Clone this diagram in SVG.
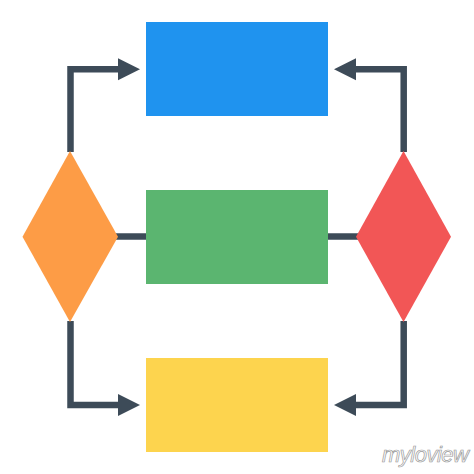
<svg xmlns="http://www.w3.org/2000/svg" width="474" height="474" viewBox="0 0 474 474">
<defs>
<style>
.conn{fill:none;stroke:#3d4b58;stroke-width:6.5;stroke-linejoin:miter}
.head{fill:#3d4b58}
.wm{font-family:"Liberation Sans",sans-serif;font-style:italic;font-size:22px;fill:#ffffff;stroke:#9a9a9a;stroke-width:0.7;letter-spacing:-0.5px}
</style>
</defs>
<rect width="474" height="474" fill="#ffffff"/>
<g id="connectors">
<path class="conn" d="M70.5,152 V69.3 H122"/>
<polygon class="head" points="140,69.3 118,58.3 118,80.3"/>
<path class="conn" d="M403.7,152 V69.3 H352"/>
<polygon class="head" points="334,69.3 356,58.3 356,80.3"/>
<path class="conn" d="M70.5,321 V405 H122"/>
<polygon class="head" points="140,405 118,394 118,416"/>
<path class="conn" d="M403.7,321 V405 H352"/>
<polygon class="head" points="334,405 356,394 356,416"/>
<path class="conn" d="M116,236.5 H147"/>
<path class="conn" d="M327,236.5 H358"/>
</g>
<g id="blue"><rect x="146" y="22" width="182" height="94" fill="#1f93ef"/></g>
<g id="green"><rect x="146" y="190" width="182" height="94" fill="#5bb570"/></g>
<g id="yellow"><rect x="146" y="358" width="182" height="94" fill="#fdd44e"/></g>
<g id="orange"><polygon points="70,151 118,236.7 70,322 22.5,236.7" fill="#fd9c46"/></g>
<g id="red"><polygon points="403.5,151 451,236.7 403.5,322 356,236.7" fill="#f25656"/></g>
<text class="wm" x="382" y="462">myloview</text>
</svg>
